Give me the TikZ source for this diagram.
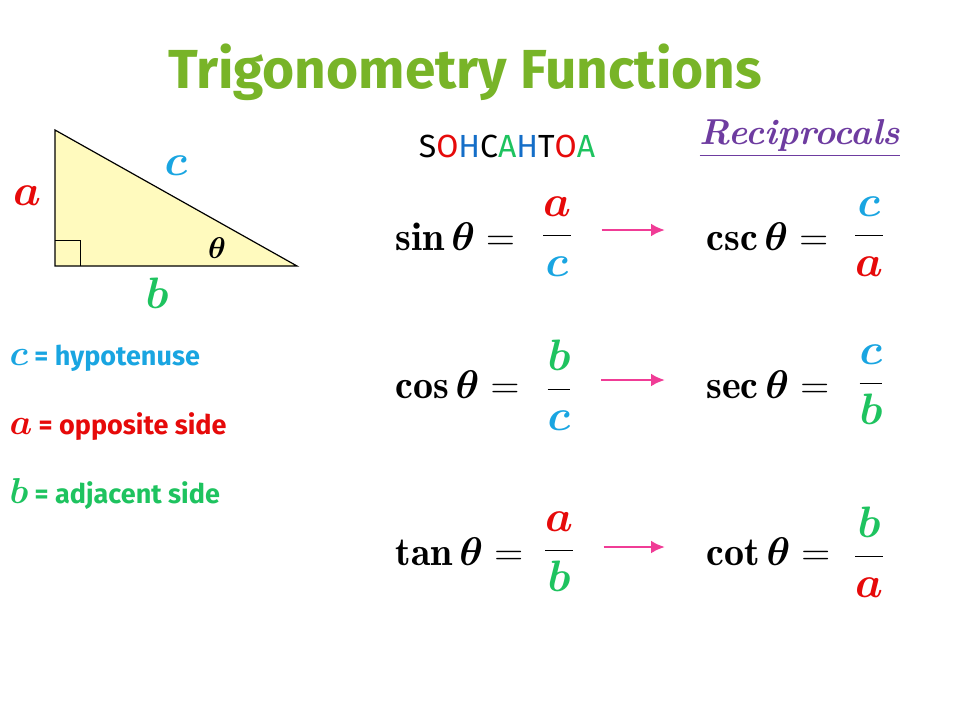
\RequirePackage{fix-cm}
\documentclass[tikz,border=0pt]{standalone}
\usepackage{amsmath,bm}
\usepackage{fontspec}
\setsansfont{Fira Sans}
\usetikzlibrary{positioning,arrows.meta}
\definecolor{tgreen}{RGB}{120,180,40}
\definecolor{sred}{RGB}{230,10,10}
\definecolor{scyan}{RGB}{25,165,225}
\definecolor{sgreen}{RGB}{30,195,95}
\definecolor{spurple}{RGB}{110,60,160}
\definecolor{spink}{RGB}{240,60,150}
\definecolor{syellow}{RGB}{255,250,190}
\definecolor{sblue}{RGB}{20,110,200}
\newcommand{\ra}{\textcolor{sred}{\bm a}}
\newcommand{\rb}{\textcolor{sgreen}{\bm b}}
\newcommand{\rc}{\textcolor{scyan}{\bm c}}
\tikzset{
  eqtext/.style={anchor=west,font=\fontsize{40}{44}\selectfont},
  fractext/.style={font=\fontsize{44}{48}\selectfont},
  legtext/.style={anchor=west,font=\sffamily\bfseries\fontsize{27}{32}\selectfont},
  sidelbl/.style={font=\fontsize{44}{48}\selectfont},
  recarrow/.style={-{Latex[length=14pt,width=13pt]},spink,line width=2.8pt,shorten <=26pt,shorten >=38pt}
}
\begin{document}
\begin{tikzpicture}[x=1pt,y=-1pt]
\useasboundingbox (0,0) rectangle (960,720);

% title
\node[font=\sffamily\fontsize{55}{60}\selectfont\bfseries,text=tgreen] (title) at (465,72) {Trigonometry Functions};

% triangle
\coordinate (A) at (55,130);
\coordinate (B) at (55,266);
\coordinate (C) at (297,266);
\draw[fill=syellow,line width=1.2pt] (A) -- (B) -- (C) -- cycle;
\draw[line width=1pt] (55,240) -- (80,240) -- (80,266);
\node[sidelbl] (la) at (27,196) {$\ra$};
\node[sidelbl] (lc) at (176,166) {$\rc$};
\node[sidelbl] (lb) at (157,293) {$\rb$};
\node[font=\fontsize{30}{34}\selectfont] (th) at (217,248) {$\bm\theta$};

% legend
\node[legtext,text=scyan] (hyp) at (6,358) {{\fontsize{36}{40}\selectfont$\bm c$} = hypotenuse};
\node[legtext,text=sred] (opp) at (6,427) {{\fontsize{36}{40}\selectfont$\bm a$} = opposite side};
\node[legtext,text=sgreen] (adj) at (6,494) {{\fontsize{36}{40}\selectfont$\bm b$} = adjacent side};

% headers
\node[font=\sffamily\fontsize{32}{36}\selectfont] (soh) at (507,146)
  {S\textcolor{sred}{O}\textcolor{sblue}{H}C\textcolor{sgreen}{A}\textcolor{sblue}{H}T\textcolor{sred}{O}\textcolor{sgreen}{A}};
\node[font=\fontsize{36}{40}\selectfont\bfseries\itshape,text=spurple] (rec) at (800,138) {\underline{Reciprocals}};

% equations
\node[eqtext] (sinL) at (392,237) {$\mathbf{sin}\,\bm\theta=$};
\node[fractext] (sinF) at (557,237) {$\dfrac{\ra}{\rc}$};
\node[eqtext] (cscL) at (703,237) {$\mathbf{csc}\,\bm\theta=$};
\node[fractext] (cscF) at (869,237) {$\dfrac{\rc}{\ra}$};

\node[eqtext] (cosL) at (392,385) {$\mathbf{cos}\,\bm\theta=$};
\node[fractext] (cosF) at (559,385) {$\dfrac{\rb}{\rc}$};
\node[eqtext] (secL) at (703,385) {$\mathbf{sec}\,\bm\theta=$};
\node[fractext] (secF) at (871,385) {$\dfrac{\rc}{\rb}$};

\node[eqtext] (tanL) at (392,552) {$\mathbf{tan}\,\bm\theta=$};
\node[fractext] (tanF) at (559,552) {$\dfrac{\ra}{\rb}$};
\node[eqtext] (cotL) at (703,552) {$\mathbf{cot}\,\bm\theta=$};
\node[fractext] (cotF) at (869,552) {$\dfrac{\rb}{\ra}$};

% arrows
\draw[recarrow] (sinF.east) ++(0,-7) coordinate (s1) -- (s1 -| cscL.west);
\draw[recarrow] (cosF.east) ++(0,-5) coordinate (s2) -- (s2 -| secL.west);
\draw[recarrow] (tanF.east) ++(0,-5) coordinate (s3) -- (s3 -| cotL.west);
\end{tikzpicture}
\end{document}
